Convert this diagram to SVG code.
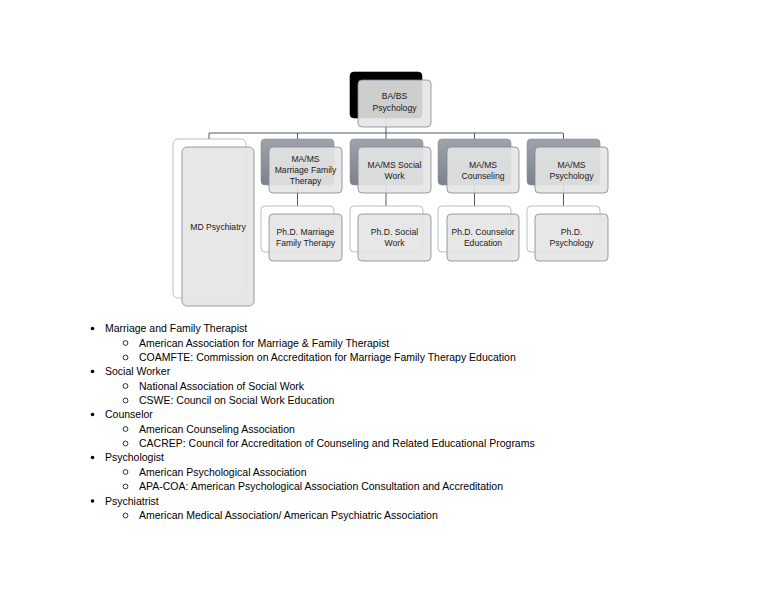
<svg xmlns="http://www.w3.org/2000/svg" width="768" height="593" viewBox="0 0 768 593">
<defs>
<linearGradient id="gb" x1="0" y1="0" x2="0" y2="1">
<stop offset="0" stop-color="#9ea3ab"/>
<stop offset="1" stop-color="#7c818b"/>
</linearGradient>
<style>
.front{fill:#e4e4e4;fill-opacity:0.9;stroke:#7f8796;stroke-width:0.8}
.backw{fill:#ffffff;stroke:#a9adb3;stroke-width:0.8}
.backg{fill:url(#gb);stroke:#8a8f98;stroke-width:0.6}
.backk{fill:#000000;stroke:#000000;stroke-width:0.6}
.conn{stroke:#4f5a6c;stroke-width:1;fill:none}
.nt{font-family:"Liberation Sans",Arial,sans-serif;font-size:8.6px;fill:#1a1a1a;text-anchor:middle}
.bt{font-family:"Liberation Sans",Arial,sans-serif;font-size:10.5px;fill:#000000}
</style>
</defs>
<rect width="768" height="593" fill="#ffffff"/>
<g id="connectors">
<path class="conn" d="M386,118 V133 M209,133 H563 M209,133 V139 M297.5,133 V139 M386,133 V139 M474.5,133 V139 M563.5,133 V139"/>
<path class="conn" d="M297.5,185 V206 M386,185 V206 M474.5,185 V206 M563.5,185 V206"/>
</g>
<g id="n-ba">
<rect class="backk" x="350" y="72" width="72" height="46" rx="4"/>
<rect class="front" x="358" y="80" width="73" height="47" rx="4"/>
<text class="nt" x="394.5" y="99">BA/BS</text>
<text class="nt" x="394.5" y="111">Psychology</text>
</g>
<g id="n-md">
<rect class="backw" x="173" y="139" width="73" height="159" rx="5"/>
<rect class="front" x="182" y="147" width="72" height="159" rx="5"/>
<text class="nt" x="218" y="229.5">MD Psychiatry</text>
</g>
<g id="n-mft">
<rect class="backg" x="261" y="139" width="73" height="46" rx="4"/>
<rect class="front" x="269" y="147" width="73" height="46" rx="4"/>
<text class="nt" x="305.5" y="162">MA/MS</text>
<text class="nt" x="305.5" y="173">Marriage Family</text>
<text class="nt" x="305.5" y="184">Therapy</text>
</g>
<g id="n-sw">
<rect class="backg" x="350" y="139" width="73" height="46" rx="4"/>
<rect class="front" x="358" y="147" width="73" height="46" rx="4"/>
<text class="nt" x="394.5" y="167.5">MA/MS Social</text>
<text class="nt" x="394.5" y="178.5">Work</text>
</g>
<g id="n-co">
<rect class="backg" x="438" y="139" width="73" height="46" rx="4"/>
<rect class="front" x="447" y="147" width="72" height="46" rx="4"/>
<text class="nt" x="483" y="167.5">MA/MS</text>
<text class="nt" x="483" y="178.5">Counseling</text>
</g>
<g id="n-ps">
<rect class="backg" x="527" y="139" width="73" height="46" rx="4"/>
<rect class="front" x="535" y="147" width="73" height="46" rx="4"/>
<text class="nt" x="571.5" y="167.5">MA/MS</text>
<text class="nt" x="571.5" y="178.5">Psychology</text>
</g>
<g id="n-phd-mft">
<rect class="backw" x="261" y="206" width="73" height="46" rx="4"/>
<rect class="front" x="269" y="214" width="73" height="47" rx="4"/>
<text class="nt" x="305.5" y="234.5">Ph.D. Marriage</text>
<text class="nt" x="305.5" y="245.5">Family Therapy</text>
</g>
<g id="n-phd-sw">
<rect class="backw" x="350" y="206" width="73" height="46" rx="4"/>
<rect class="front" x="358" y="214" width="73" height="47" rx="4"/>
<text class="nt" x="394.5" y="234.5">Ph.D. Social</text>
<text class="nt" x="394.5" y="245.5">Work</text>
</g>
<g id="n-phd-co">
<rect class="backw" x="438" y="206" width="73" height="46" rx="4"/>
<rect class="front" x="447" y="214" width="72" height="47" rx="4"/>
<text class="nt" x="483" y="234.5">Ph.D. Counselor</text>
<text class="nt" x="483" y="245.5">Education</text>
</g>
<g id="n-phd-ps">
<rect class="backw" x="527" y="206" width="73" height="46" rx="4"/>
<rect class="front" x="535" y="214" width="73" height="47" rx="4"/>
<text class="nt" x="571.5" y="234.5">Ph.D.</text>
<text class="nt" x="571.5" y="245.5">Psychology</text>
</g>
<g id="list">
<g fill="#000">
<circle cx="92.5" cy="328.5" r="1.8"/>
<circle cx="92.5" cy="371.5" r="1.8"/>
<circle cx="92.5" cy="414.5" r="1.8"/>
<circle cx="92.5" cy="457.5" r="1.8"/>
<circle cx="92.5" cy="501" r="1.8"/>
</g>
<g fill="none" stroke="#000" stroke-width="0.8">
<circle cx="125.5" cy="343" r="2.4"/>
<circle cx="125.5" cy="357.5" r="2.4"/>
<circle cx="125.5" cy="386" r="2.4"/>
<circle cx="125.5" cy="400.5" r="2.4"/>
<circle cx="125.5" cy="429" r="2.4"/>
<circle cx="125.5" cy="443.5" r="2.4"/>
<circle cx="125.5" cy="472" r="2.4"/>
<circle cx="125.5" cy="486.5" r="2.4"/>
<circle cx="125.5" cy="515.5" r="2.4"/>
</g>
<text class="bt" x="105" y="332">Marriage and Family Therapist</text>
<text class="bt" x="139" y="346.5">American Association for Marriage &amp; Family Therapist</text>
<text class="bt" x="139" y="361">COAMFTE: Commission on Accreditation for Marriage Family Therapy Education</text>
<text class="bt" x="105" y="375">Social Worker</text>
<text class="bt" x="139" y="389.5">National Association of Social Work</text>
<text class="bt" x="139" y="404">CSWE: Council on Social Work Education</text>
<text class="bt" x="105" y="418">Counselor</text>
<text class="bt" x="139" y="432.5">American Counseling Association</text>
<text class="bt" x="139" y="447">CACREP: Council for Accreditation of Counseling and Related Educational Programs</text>
<text class="bt" x="105" y="461">Psychologist</text>
<text class="bt" x="139" y="475.5">American Psychological Association</text>
<text class="bt" x="139" y="490">APA-COA: American Psychological Association Consultation and Accreditation</text>
<text class="bt" x="105" y="504.5">Psychiatrist</text>
<text class="bt" x="139" y="519">American Medical Association/ American Psychiatric Association</text>
</g>
</svg>
